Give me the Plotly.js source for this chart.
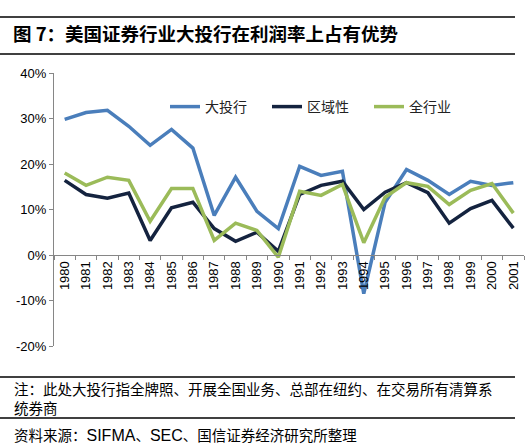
<!DOCTYPE html>
<html>
<head>
<meta charset="utf-8">
<script src="https://cdn.plot.ly/plotly-3.0.1.min.js"></script>
<style>html,body{margin:0;padding:0;background:#fff;}#chart{width:530px;height:444px;}</style>
</head>
<body>
<div id="chart"></div>
<script>
const years = ['1980','1981','1982','1983','1984','1985','1986','1987','1988','1989','1990','1991','1992','1993','1994','1995','1996','1997','1998','1999','2000','2001'];
const bigBank = [29.8, 31.3, 31.8, 28.3, 24.1, 27.6, 23.5, 8.7, 17.1, 9.6, 5.8, 19.5, 17.5, 18.4, -8.5, 11.6, 18.8, 16.4, 13.3, 16.2, 15.3, 15.9];
const regional = [16.4, 13.3, 12.5, 13.6, 3.2, 10.4, 11.6, 5.8, 3.0, 5.0, 0.8, 13.3, 15.3, 16.2, 10.0, 13.8, 15.9, 13.7, 7.0, 10.2, 12.0, 5.9];
const industry = [18.0, 15.3, 17.1, 16.4, 7.4, 14.6, 14.6, 3.2, 7.0, 5.4, -0.5, 14.0, 13.1, 15.5, 2.7, 12.7, 15.9, 15.1, 11.1, 14.2, 15.7, 9.2];
const seriesNames = ['大投行', '区域性', '全行业'];
const yTickVals = [-20, -10, 0, 10, 20, 30, 40];
const yTickText = ['-20%', '-10%', '0%', '10%', '20%', '30%', '40%'];
const titleText = '图 7：美国证券行业大投行在利润率上占有优势';
const noteLine1 = '注：此处大投行指全牌照、开展全国业务、总部在纽约、在交易所有清算系';
const noteLine2 = '统券商';
const LAT = 'font-family:Liberation Sans,Arial,sans-serif;font-size:16px';
const sourceText = '资料来源：<span style="' + LAT + '">SIFMA</span>、<span style="' + LAT + '">SEC</span>、国信证券经济研究所整理';

const FONT = '"Liberation Sans", Arial, "Noto Sans CJK SC", sans-serif';
const CJK = '"Noto Sans CJK SC", "Liberation Sans", sans-serif';

const colors = ['#4A7EBB', '#14233F', '#9BBB59'];
const data = [bigBank, regional, industry].map((v, i) => ({
  type: 'scatter', mode: 'lines', x: years, y: v, name: seriesNames[i],
  line: {color: colors[i], width: 3.5}, hoverinfo: 'skip'
}));

// plot area: x 54..524, y 73..346
const L = 54, R = 524, T = 73, B = 346;
const px = x => (x - L) / (R - L);
const py = y => (B - y) / (B - T);
const hline = (y) => ({type: 'line', xref: 'paper', yref: 'paper', x0: px(0), x1: px(515), y0: py(y), y1: py(y), line: {color: '#000', width: 1.5}});
const note = (text, y, size) => ({text: text, xref: 'paper', yref: 'paper', x: px(12), y: py(y), xanchor: 'left', yanchor: 'middle', align: 'left', showarrow: false, font: {family: CJK, size: size, color: '#000'}});

const layout = {
  width: 530, height: 444,
  margin: {l: L, r: 530 - R, t: T, b: 444 - B, pad: 0},
  paper_bgcolor: '#fff', plot_bgcolor: '#fff',
  font: {family: FONT, size: 13, color: '#000'},
  showlegend: true,
  title: {text: titleText, font: {family: CJK, size: 18.5, color: '#000', weight: 'bold'}, xref: 'container', yref: 'container', x: 13/530, xanchor: 'left', y: 1 - 35/444, yanchor: 'middle'},
  xaxis: {
    type: 'category', range: [-0.5, 21.5], anchor: 'free', position: 1/3,
    showline: true, linecolor: '#868686', linewidth: 1,
    ticks: 'outside', tickson: 'boundaries', ticklen: 4, tickcolor: '#868686',
    tickangle: -90, tickfont: {family: FONT, size: 13, color: '#000'},
    showgrid: false, zeroline: false, automargin: false, fixedrange: true
  },
  yaxis: {
    range: [-20, 40], tickvals: yTickVals, ticktext: yTickText,
    showline: true, linecolor: '#868686', linewidth: 1,
    ticks: 'outside', ticklen: 4, tickcolor: '#868686',
    tickfont: {family: FONT, size: 13, color: '#000'},
    showgrid: false, zeroline: false, automargin: false, fixedrange: true
  },
  legend: {
    orientation: 'h', x: px(165), xanchor: 'left', y: py(107), yanchor: 'middle',
    bgcolor: 'rgba(0,0,0,0)', font: {family: CJK, size: 14, color: '#222'},
    entrywidth: 57, entrywidthmode: 'pixels', itemwidth: 30
  },
  shapes: [hline(17), hline(54), hline(377), hline(418)],
  annotations: [
    note(noteLine1, 388, 14.5),
    note(noteLine2, 407, 14.5),
    note(sourceText, 434, 14.5)
  ]
};

Plotly.newPlot('chart', data, layout, {displayModeBar: false, staticPlot: true});
</script>
</body>
</html>
